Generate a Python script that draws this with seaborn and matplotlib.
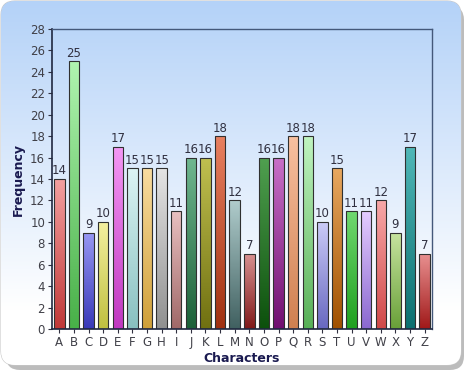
import numpy as np
import pandas as pd
import matplotlib
matplotlib.use("Agg")
import matplotlib.pyplot as plt
import seaborn as sns
from matplotlib.patches import FancyBboxPatch
from matplotlib.colors import to_rgb

characters = list("ABCDEFGHIJKLMNOPQRSTUVWXYZ")
frequency = [14, 25, 9, 10, 17, 15, 15, 15, 11, 16, 16, 18, 12, 7,
             16, 16, 18, 18, 10, 15, 11, 11, 12, 9, 17, 7]
y_ticks = list(range(0, 29, 2))

top_colors = ["#f4a0a0", "#b0f4b0", "#9898f4", "#f4f0a0", "#f498f4", "#dcf4f4",
              "#f8dca0", "#e4e4e4", "#e8c0c0", "#70b890", "#c0c050", "#e88060",
              "#b0cccc", "#d89090", "#50a050", "#c870c8", "#f8c0a0", "#c0f4c0",
              "#ccccf8", "#e8a860", "#70d870", "#e4ccff", "#f8a8a8", "#c8e4a0",
              "#50b8b8", "#e89090"]
bottom_colors = ["#c03838", "#48b048", "#3838b8", "#c0c040", "#c038c0", "#88c0c0",
                 "#d0a038", "#909090", "#a06868", "#1c6038", "#707010", "#a03010",
                 "#406060", "#801818", "#0c500c", "#701070", "#d08050", "#58b058",
                 "#6868c0", "#a05000", "#20a020", "#8a68d0", "#d04848", "#68a038",
                 "#0c7070", "#a01818"]

df = pd.DataFrame({"Characters": characters, "Frequency": frequency})

fig = plt.figure(figsize=(4.74, 3.79), dpi=100)
fig.patch.set_facecolor("white")

# background card with gradient and shadow
bg = fig.add_axes([0, 0, 1, 1])
bg.set_xlim(0, 474)
bg.set_ylim(379, 0)
bg.axis("off")
shadow = FancyBboxPatch((6, 6), 458, 364, boxstyle="round,pad=0,rounding_size=14",
                        facecolor="#a0a0a0", edgecolor="none", alpha=0.7)
bg.add_patch(shadow)
card = FancyBboxPatch((1, 1), 460, 364, boxstyle="round,pad=0,rounding_size=14",
                      facecolor="white", edgecolor="#c8c8c8", linewidth=0.8)
bg.add_patch(card)
grad = np.linspace(0, 1, 256).reshape(-1, 1)
c_top = np.array(to_rgb("#b4d2f8"))
c_bot = np.array(to_rgb("#ffffff"))
t = np.clip(grad / 0.85, 0, 1)
img = c_top[None, None, :] * (1 - t[..., None]) + c_bot[None, None, :] * t[..., None]
im = bg.imshow(img, extent=(1, 461, 365, 1), aspect="auto", zorder=1)
im.set_clip_path(card)

ax = fig.add_axes([52 / 474, 1 - 329 / 379, (432 - 52) / 474, (329 - 29) / 379])
ax.patch.set_alpha(0)

sns.barplot(data=df, x="Characters", y="Frequency", hue="Characters",
            palette=bottom_colors, legend=False, width=0.72, ax=ax,
            edgecolor="#303030", linewidth=0.8, saturation=1)

for patch, ctop, cbot in zip(ax.patches, top_colors, bottom_colors):
    x0, w, h = patch.get_x(), patch.get_width(), patch.get_height()
    a = np.array(to_rgb(ctop))
    b = np.array(to_rgb(cbot))
    tt = np.linspace(0, 1, 128).reshape(-1, 1)
    g = a[None, None, :] * (1 - tt[..., None]) + b[None, None, :] * tt[..., None]
    gi = ax.imshow(g, extent=(x0, x0 + w, 0, h), aspect="auto", zorder=patch.get_zorder() - 0.1,
                   origin="upper")
    gi.set_clip_path(patch)
    patch.set_facecolor("none")
    ax.text(x0 + w / 2, h + 0.15, str(int(h)), ha="center", va="bottom",
            fontsize=8.5, color="#303040")

ax.set_xlim(-0.5, len(characters) - 0.5)
ax.set_ylim(0, 28)
ax.set_yticks(y_ticks)
ax.tick_params(axis="both", direction="out", length=3, color="#303040",
               labelsize=8.5, labelcolor="#404048", pad=2)
for s in ["left", "bottom"]:
    ax.spines[s].set_color("#202840")
    ax.spines[s].set_linewidth(1.2)
for s in ["top", "right"]:
    ax.spines[s].set_color("#44587a")
    ax.spines[s].set_linewidth(1.0)
ax.set_xlabel("Characters", fontsize=9, fontweight="bold", color="#1a1a50", labelpad=2)
ax.set_ylabel("Frequency", fontsize=9, fontweight="bold", color="#1a1a50", labelpad=4)

fig.savefig("out.png", dpi=100)
